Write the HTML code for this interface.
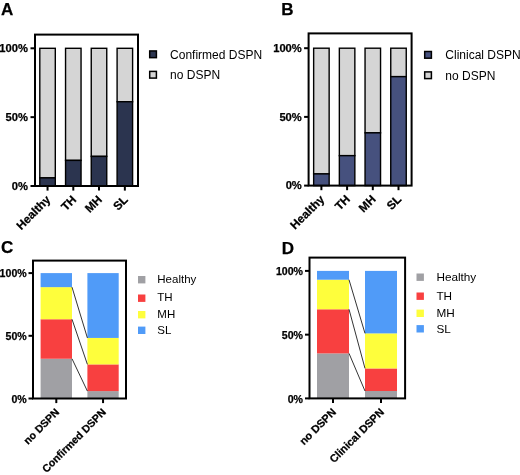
<!DOCTYPE html><html><head><meta charset="utf-8"><title>Figure</title><style>html,body{margin:0;padding:0;background:#fff}svg{display:block}text{font-family:"Liberation Sans",Arial,sans-serif;fill:#000}.b{font-weight:bold}.ax,.xl,.pl{stroke:#000;stroke-width:0.25px}.ax{font-weight:bold;font-size:11.2px}.lg{font-size:12px}.lg2{font-size:11.5px}.xl{font-weight:bold;font-size:11.75px}.pl{font-weight:bold;font-size:17px}</style></head><body>
<svg width="520" height="475" viewBox="0 0 520 475">
<rect width="520" height="475" fill="#fff"/>
<text class="pl" x="1.0" y="14.8">A</text>
<rect x="39.8" y="48.3" width="15.5" height="129.58" fill="#d5d5d5" stroke="#000" stroke-width="1.4"/>
<rect x="39.8" y="177.88" width="15.5" height="8.12" fill="#2b344f" stroke="#000" stroke-width="1.4"/>
<rect x="65.55" y="48.3" width="15.5" height="112.09" fill="#d5d5d5" stroke="#000" stroke-width="1.4"/>
<rect x="65.55" y="160.39" width="15.5" height="25.61" fill="#2b344f" stroke="#000" stroke-width="1.4"/>
<rect x="91.25" y="48.3" width="15.5" height="108.09" fill="#d5d5d5" stroke="#000" stroke-width="1.4"/>
<rect x="91.25" y="156.39" width="15.5" height="29.61" fill="#2b344f" stroke="#000" stroke-width="1.4"/>
<rect x="117.1" y="48.3" width="15.5" height="53.43" fill="#d5d5d5" stroke="#000" stroke-width="1.4"/>
<rect x="117.1" y="101.73" width="15.5" height="84.27" fill="#2b344f" stroke="#000" stroke-width="1.4"/>
<rect x="35" y="34.6" width="103" height="151.4" fill="none" stroke="#000" stroke-width="2"/>
<line x1="30.5" x2="35" y1="48.3" y2="48.3" stroke="#000" stroke-width="2"/>
<text class="ax" text-anchor="end" x="27.9" y="52.1">100%</text>
<line x1="30.5" x2="35" y1="117.15" y2="117.15" stroke="#000" stroke-width="2"/>
<text class="ax" text-anchor="end" x="27.9" y="120.95">50%</text>
<line x1="30.5" x2="35" y1="186" y2="186" stroke="#000" stroke-width="2"/>
<text class="ax" text-anchor="end" x="27.9" y="189.8">0%</text>
<line x1="47.55" x2="47.55" y1="186" y2="190.6" stroke="#000" stroke-width="2"/>
<text class="xl" text-anchor="end" transform="translate(51.25,200.4) rotate(-45)">Healthy</text>
<line x1="73.3" x2="73.3" y1="186" y2="190.6" stroke="#000" stroke-width="2"/>
<text class="xl" text-anchor="end" transform="translate(77,200.4) rotate(-45)">TH</text>
<line x1="99" x2="99" y1="186" y2="190.6" stroke="#000" stroke-width="2"/>
<text class="xl" text-anchor="end" transform="translate(102.7,200.4) rotate(-45)">MH</text>
<line x1="124.85" x2="124.85" y1="186" y2="190.6" stroke="#000" stroke-width="2"/>
<text class="xl" text-anchor="end" transform="translate(128.55,200.4) rotate(-45)">SL</text>
<rect x="149.7" y="50.95" width="6.7" height="6.7" fill="#2b344f" stroke="#000" stroke-width="1.5"/>
<text class="lg" x="170.1" y="59.1">Confirmed DSPN</text>
<rect x="149.7" y="71.4" width="6.7" height="6.7" fill="#d5d5d5" stroke="#000" stroke-width="1.5"/>
<text class="lg" x="170.1" y="79.2">no DSPN</text>
<text class="pl" x="281.2" y="14.7">B</text>
<rect x="313.65" y="48.2" width="15.5" height="125.72" fill="#d5d5d5" stroke="#000" stroke-width="1.4"/>
<rect x="313.65" y="173.92" width="15.5" height="11.68" fill="#46517e" stroke="#000" stroke-width="1.4"/>
<rect x="339.35" y="48.2" width="15.5" height="107.45" fill="#d5d5d5" stroke="#000" stroke-width="1.4"/>
<rect x="339.35" y="155.65" width="15.5" height="29.95" fill="#46517e" stroke="#000" stroke-width="1.4"/>
<rect x="365.05" y="48.2" width="15.5" height="84.64" fill="#d5d5d5" stroke="#000" stroke-width="1.4"/>
<rect x="365.05" y="132.84" width="15.5" height="52.76" fill="#46517e" stroke="#000" stroke-width="1.4"/>
<rect x="390.75" y="48.2" width="15.5" height="28.44" fill="#d5d5d5" stroke="#000" stroke-width="1.4"/>
<rect x="390.75" y="76.64" width="15.5" height="108.96" fill="#46517e" stroke="#000" stroke-width="1.4"/>
<rect x="308.6" y="33.4" width="103" height="152.2" fill="none" stroke="#000" stroke-width="2"/>
<line x1="304.1" x2="308.6" y1="48.2" y2="48.2" stroke="#000" stroke-width="2"/>
<text class="ax" text-anchor="end" x="301.8" y="52">100%</text>
<line x1="304.1" x2="308.6" y1="116.9" y2="116.9" stroke="#000" stroke-width="2"/>
<text class="ax" text-anchor="end" x="301.8" y="120.7">50%</text>
<line x1="304.1" x2="308.6" y1="185.6" y2="185.6" stroke="#000" stroke-width="2"/>
<text class="ax" text-anchor="end" x="301.8" y="189.4">0%</text>
<line x1="321.4" x2="321.4" y1="185.6" y2="190.2" stroke="#000" stroke-width="2"/>
<text class="xl" text-anchor="end" transform="translate(325.1,200) rotate(-45)">Healthy</text>
<line x1="347.1" x2="347.1" y1="185.6" y2="190.2" stroke="#000" stroke-width="2"/>
<text class="xl" text-anchor="end" transform="translate(350.8,200) rotate(-45)">TH</text>
<line x1="372.8" x2="372.8" y1="185.6" y2="190.2" stroke="#000" stroke-width="2"/>
<text class="xl" text-anchor="end" transform="translate(376.5,200) rotate(-45)">MH</text>
<line x1="398.5" x2="398.5" y1="185.6" y2="190.2" stroke="#000" stroke-width="2"/>
<text class="xl" text-anchor="end" transform="translate(402.2,200) rotate(-45)">SL</text>
<rect x="424.7" y="51.5" width="6.7" height="6.7" fill="#46517e" stroke="#000" stroke-width="1.5"/>
<text class="lg" x="445.3" y="59.4">Clinical DSPN</text>
<rect x="424.7" y="71.9" width="6.7" height="6.7" fill="#d5d5d5" stroke="#000" stroke-width="1.5"/>
<text class="lg" x="445.3" y="79.5">no DSPN</text>
<text class="pl" x="1" y="253.4">C</text>
<rect x="40.6" y="358.75" width="31.4" height="39.75" fill="#a0a0a4"/>
<rect x="40.6" y="319.25" width="31.4" height="39.5" fill="#f84040"/>
<rect x="40.6" y="287.14" width="31.4" height="32.1" fill="#fefe3c"/>
<rect x="40.6" y="273.1" width="31.4" height="14.04" fill="#509bf8"/>
<rect x="87.4" y="391.1" width="31.3" height="7.4" fill="#a0a0a4"/>
<rect x="87.4" y="364.39" width="31.3" height="26.71" fill="#f84040"/>
<rect x="87.4" y="337.93" width="31.3" height="26.46" fill="#fefe3c"/>
<rect x="87.4" y="273.1" width="31.3" height="64.83" fill="#509bf8"/>
<line x1="72" y1="358.75" x2="87.4" y2="391.1" stroke="#000" stroke-width="0.8"/>
<line x1="72" y1="319.25" x2="87.4" y2="364.39" stroke="#000" stroke-width="0.8"/>
<line x1="72" y1="287.14" x2="87.4" y2="337.93" stroke="#000" stroke-width="0.8"/>
<rect x="33" y="260.6" width="93" height="137.9" fill="none" stroke="#000" stroke-width="2"/>
<line x1="28.5" x2="33" y1="273.1" y2="273.1" stroke="#000" stroke-width="2"/>
<text class="ax" style="font-size:10.6px" text-anchor="end" x="26.7" y="277.4">100%</text>
<line x1="28.5" x2="33" y1="335.8" y2="335.8" stroke="#000" stroke-width="2"/>
<text class="ax" style="font-size:10.6px" text-anchor="end" x="26.7" y="340.1">50%</text>
<line x1="28.5" x2="33" y1="398.5" y2="398.5" stroke="#000" stroke-width="2"/>
<text class="ax" style="font-size:10.6px" text-anchor="end" x="26.7" y="402.8">0%</text>
<line x1="56.3" x2="56.3" y1="398.5" y2="403.1" stroke="#000" stroke-width="2"/>
<text class="xl" style="font-size:10.6px" text-anchor="end" transform="translate(60,412.9) rotate(-45)">no DSPN</text>
<line x1="103.05" x2="103.05" y1="398.5" y2="403.1" stroke="#000" stroke-width="2"/>
<text class="xl" style="font-size:10.6px" text-anchor="end" transform="translate(106.75,412.9) rotate(-45)">Confirmed DSPN</text>
<rect x="138" y="276" width="7.4" height="7.4" fill="#a0a0a4"/>
<text class="lg2" style="font-size:11.5px" x="157.3" y="283.4">Healthy</text>
<rect x="138" y="294.5" width="7.4" height="7.4" fill="#f84040"/>
<text class="lg2" style="font-size:11.5px" x="157.3" y="301.4">TH</text>
<rect x="138" y="311" width="7.4" height="7.4" fill="#fefe3c"/>
<text class="lg2" style="font-size:11.5px" x="157.3" y="318.4">MH</text>
<rect x="138" y="326.6" width="7.4" height="7.4" fill="#509bf8"/>
<text class="lg2" style="font-size:11.5px" x="157.3" y="334">SL</text>
<text class="pl" x="281.8" y="253.6">D</text>
<rect x="317" y="353.39" width="32" height="45.01" fill="#a0a0a4"/>
<rect x="317" y="309.28" width="32" height="44.12" fill="#f84040"/>
<rect x="317" y="279.7" width="32" height="29.58" fill="#fefe3c"/>
<rect x="317" y="270.9" width="32" height="8.8" fill="#509bf8"/>
<rect x="365" y="391" width="32" height="7.39" fill="#a0a0a4"/>
<rect x="365" y="368.44" width="32" height="22.57" fill="#f84040"/>
<rect x="365" y="333.38" width="32" height="35.06" fill="#fefe3c"/>
<rect x="365" y="270.9" width="32" height="62.48" fill="#509bf8"/>
<line x1="349" y1="353.39" x2="365" y2="391" stroke="#000" stroke-width="0.8"/>
<line x1="349" y1="309.28" x2="365" y2="368.44" stroke="#000" stroke-width="0.8"/>
<line x1="349" y1="279.7" x2="365" y2="333.38" stroke="#000" stroke-width="0.8"/>
<rect x="309.5" y="257.6" width="95.6" height="140.8" fill="none" stroke="#000" stroke-width="2"/>
<line x1="305" x2="309.5" y1="270.9" y2="270.9" stroke="#000" stroke-width="2"/>
<text class="ax" style="font-size:10.6px" text-anchor="end" x="303" y="275.2">100%</text>
<line x1="305" x2="309.5" y1="334.65" y2="334.65" stroke="#000" stroke-width="2"/>
<text class="ax" style="font-size:10.6px" text-anchor="end" x="303" y="338.95">50%</text>
<line x1="305" x2="309.5" y1="398.4" y2="398.4" stroke="#000" stroke-width="2"/>
<text class="ax" style="font-size:10.6px" text-anchor="end" x="303" y="402.7">0%</text>
<line x1="333" x2="333" y1="398.4" y2="403" stroke="#000" stroke-width="2"/>
<text class="xl" style="font-size:10.85px" text-anchor="end" transform="translate(336.7,412.8) rotate(-45)">no DSPN</text>
<line x1="381" x2="381" y1="398.4" y2="403" stroke="#000" stroke-width="2"/>
<text class="xl" style="font-size:10.85px" text-anchor="end" transform="translate(384.7,412.8) rotate(-45)">Clinical DSPN</text>
<rect x="416.5" y="273.5" width="7.4" height="7.4" fill="#a0a0a4"/>
<text class="lg2" style="font-size:11.75px" x="436.4" y="281.2">Healthy</text>
<rect x="416.5" y="292.5" width="7.4" height="7.4" fill="#f84040"/>
<text class="lg2" style="font-size:11.75px" x="436.4" y="300">TH</text>
<rect x="416.5" y="309.6" width="7.4" height="7.4" fill="#fefe3c"/>
<text class="lg2" style="font-size:11.75px" x="436.4" y="317">MH</text>
<rect x="416.5" y="325.1" width="7.4" height="7.4" fill="#509bf8"/>
<text class="lg2" style="font-size:11.75px" x="436.4" y="332.6">SL</text>
</svg></body></html>
